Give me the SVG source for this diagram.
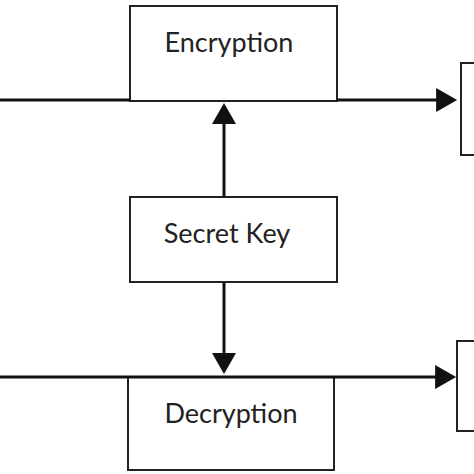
<svg xmlns="http://www.w3.org/2000/svg" width="474" height="474" viewBox="0 0 474 474">
<style>
.box{fill:#fff;stroke:#222;stroke-width:2}
.lbl{font-family:Lato,"Open Sans",sans-serif;font-size:27px;fill:#222;text-anchor:middle}
.con{stroke:#111;stroke-width:3;fill:none}
</style>
<defs>
<marker id="ah" markerWidth="8" markerHeight="8" refX="0.3" refY="4" orient="auto" markerUnits="strokeWidth">
<path d="M0,0 L7,4 L0,8 Z" fill="#111"/>
</marker>
</defs>
<g id="encryption"><rect class="box" x="130" y="6" width="207" height="95"/><text class="lbl" x="229" y="52">Encryption</text></g>
<g id="secret-key"><rect class="box" x="130" y="197" width="207" height="85"/><text class="lbl" x="227" y="243">Secret Key</text></g>
<g id="decryption"><rect class="box" x="128" y="377" width="206" height="93"/><text class="lbl" x="231" y="423">Decryption</text></g>
<g id="output-top"><rect class="box" x="461" y="63" width="20" height="92"/></g>
<g id="output-bottom"><rect class="box" x="457" y="341" width="24" height="90"/></g>
<g id="connectors">
<line class="con" x1="0" y1="100" x2="130" y2="100"/>
<line class="con" x1="337" y1="100" x2="437" y2="100" marker-end="url(#ah)"/>
<line class="con" x1="224" y1="197" x2="224" y2="123" marker-end="url(#ah)"/>
<line class="con" x1="224" y1="282" x2="224" y2="354" marker-end="url(#ah)"/>
<line class="con" x1="0" y1="377" x2="436" y2="377" marker-end="url(#ah)"/>
</g>
</svg>
